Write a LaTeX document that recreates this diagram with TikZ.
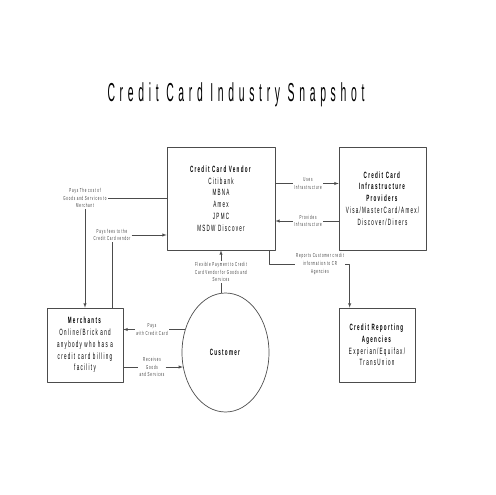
\documentclass[tikz,border=0pt]{standalone}
\usepackage{fontspec}
\setmainfont{Liberation Sans}[FakeStretch=0.5,LetterSpace=14]
\newfontfamily\titlefont{Liberation Sans}[FakeStretch=0.4,LetterSpace=18]
\usetikzlibrary{arrows}
\usepgflibrary{shapes}
\begin{document}
\begin{tikzpicture}[x=1pt,y=-1pt,join=round,
        box/.style={draw=black!70,line width=.7pt,align=center,
                font=\fontsize{9.1}{11.8}\selectfont},
        lbl/.style={align=center,inner sep=1pt,text=black!80,
                font=\fontsize{5.8}{7.8}\selectfont},
        link/.style={draw=black!70,line width=.5pt}]
        \useasboundingbox (0,0) rectangle (495,495);
        \node[font=\titlefont\fontsize{26}{30}\selectfont] (title) at (236,95) {Credit Card Industry Snapshot};
        % boxes
        \node[box,minimum width=108pt,minimum height=103pt] (vendor) at (221,198.5)
                {\textbf{Credit Card Vendor}\\Citibank\\MBNA\\Amex\\JPMC\\MSDW Discover};
        \node[box,minimum width=87pt,minimum height=103pt] (infra) at (382.5,198.5)
                {\textbf{Credit Card}\\\textbf{Infrastructure}\\\textbf{Providers}\\Visa/MasterCard/Amex/\\Discover/Diners};
        \node[box,minimum width=76pt,minimum height=74pt] (merchants) at (85,345)
                {\textbf{Merchants}\\Online/Brick and\\anybody who has a\\credit card billing\\facility};
        \node[box,minimum width=76pt,minimum height=74pt] (agencies) at (377,345)
                {\textbf{Credit Reporting}\\\textbf{Agencies}\\Experian/Equifax/\\TransUnion};
        \node[box,ellipse,minimum width=87pt,minimum height=119pt,inner sep=0pt] (customer) at (225.5,352.5)
                {\textbf{Customer}};
        % labels
        \node[lbl] (uses) at (308,183.5) {Uses\\Infrastructure};
        \node[lbl] (provides) at (308,221) {Provides\\Infrastructure};
        \node[lbl] (cost) at (85,198) {Pays The cost of\\Goods and Services to\\Merchant};
        \node[lbl] (fees) at (112,235) {Pays fees to the\\Credit Card vendor};
        \node[lbl] (paycard) at (152,329.5) {Pays\\with Credit Card};
        \node[lbl] (receives) at (152,367) {Receives\\Goods\\and Services};
        \node[lbl] (flex) at (221,272) {Flexible Payment to Credit\\Card Vendor for Goods and\\Services};
        \node[lbl] (reports) at (320,264) {Reports Customer credit\\information to CR\\Agencies};
        % connectors
        \draw[link] (vendor.east |- uses) -- (uses.west);
        \draw[link,-latex] (uses.east) -- (infra.west |- uses);
        \draw[link] (infra.west |- provides) -- (provides.east);
        \draw[link,-latex] (provides.west) -- (vendor.east |- provides);
        \draw[link] (vendor.west |- cost) -- (cost.east);
        \draw[link,-latex] (cost.south) -- (merchants.north -| cost);
        \draw[link] (merchants.north -| fees) -- (fees.south);
        \draw[link,-latex] (fees.east) -- (vendor.west |- fees);
        \draw[link] (customer.152 |- paycard) -- (paycard.east);
        \draw[link,-latex] (paycard.west) -- (merchants.east |- paycard);
        \draw[link] (merchants.east |- receives) -- (receives.west);
        \draw[link,-latex] (receives.east) -- (customer.199 |- receives);
        \draw[link] (customer.north -| flex) -- (flex.south);
        \draw[link,-latex] (flex.north) -- (vendor.south -| flex);
        \draw[link] ([xshift=-6pt]vendor.south east) |- (reports.west);
        \draw[link,-latex] (reports.east) -| ([xshift=11pt]agencies.north west);
\end{tikzpicture}
\end{document}
